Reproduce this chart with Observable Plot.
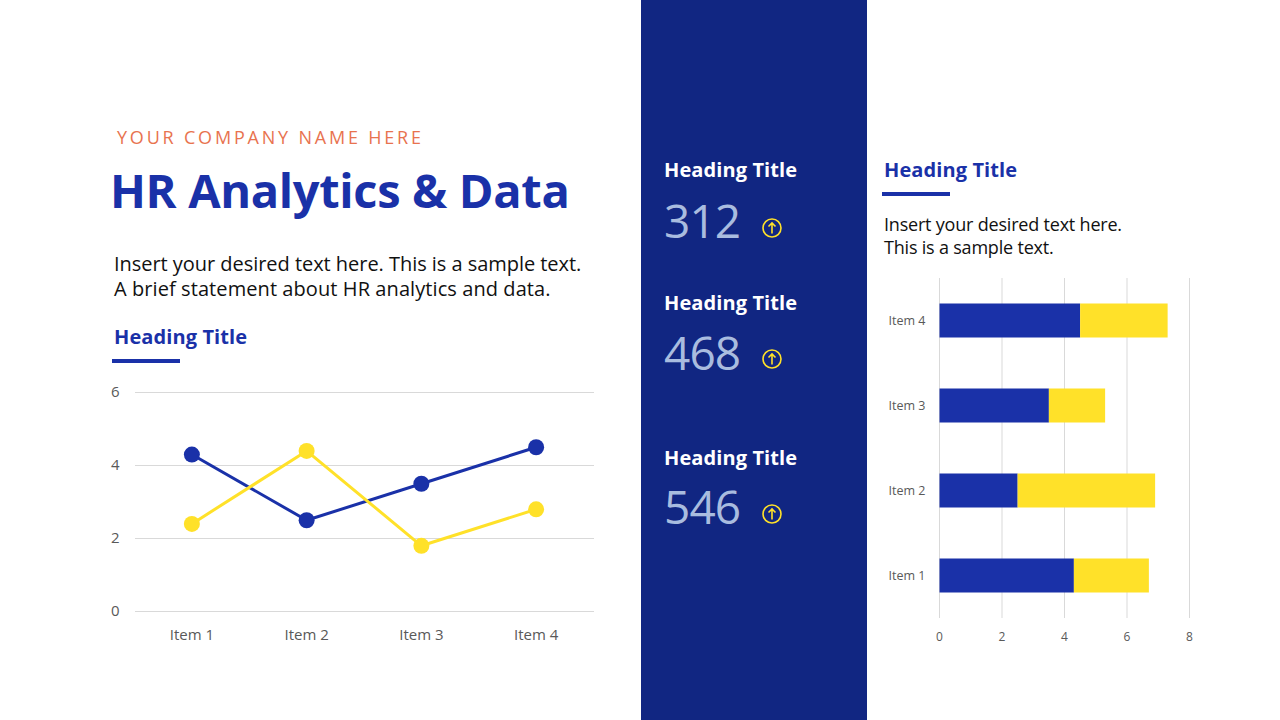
<!DOCTYPE html>
<html><head><meta charset="utf-8">
<script src="https://cdn.jsdelivr.net/npm/d3@7"></script>
<script src="https://cdn.jsdelivr.net/npm/@observablehq/plot@0.6"></script>
<style>
html,body{margin:0;padding:0;background:#fff}
#slide{position:relative;width:1280px;height:720px;overflow:hidden;font-family:"Open Sans","Noto Sans",sans-serif;background:#fff}
#slide>*{position:absolute;white-space:nowrap}
#panel{left:641px;top:0;width:226px;height:720px;background:#112682}
.h{font-weight:700;font-size:20px;line-height:26px;letter-spacing:.1px}
.blue{color:#1a31a8}.white{color:#fff}
.rule{height:4px;background:#1a31a8}
.num{font-size:46px;line-height:56px;color:#a9bcdf;font-weight:400;letter-spacing:-.9px}
.body{font-size:20px;line-height:25px;color:#111}
.arrow{width:22px;height:22px}
svg.plot{position:absolute;overflow:visible}
</style></head><body>
<div id="slide">
<div id="panel"></div>
<div style="left:117px;top:125px;font-size:18px;line-height:24px;letter-spacing:2.8px;color:#e8734f">YOUR COMPANY NAME HERE</div>
<div class="blue" style="left:110px;top:157px;font-size:47px;line-height:66px;font-weight:700;letter-spacing:-.34px">HR Analytics &amp; Data</div>
<div class="body" style="left:114px;top:251px"><span style="letter-spacing:-.04px">Insert your desired text here. This is a sample text.</span><br><span style="letter-spacing:.08px">A brief statement about HR analytics and data.</span></div>
<div class="h blue" style="left:114px;top:324px">Heading Title</div>
<div class="rule" style="left:112px;top:359px;width:68px"></div>
<div class="h white" style="left:664px;top:157px">Heading Title</div>
<div class="num" style="left:664px;top:192px">312</div>
<svg class="arrow" style="left:761px;top:217px" viewBox="0 0 22 22"><circle cx="11" cy="11" r="9" fill="none" stroke="#ffe129" stroke-width="1.6"/><path d="M11 16.500V6M7.500 9.500L11 6l3.500 3.500" fill="none" stroke="#ffe129" stroke-width="1.6"/></svg>
<div class="h white" style="left:664px;top:290px">Heading Title</div>
<div class="num" style="left:664px;top:324px">468</div>
<svg class="arrow" style="left:761px;top:348px" viewBox="0 0 22 22"><circle cx="11" cy="11" r="9" fill="none" stroke="#ffe129" stroke-width="1.6"/><path d="M11 16.500V6M7.500 9.500L11 6l3.500 3.500" fill="none" stroke="#ffe129" stroke-width="1.6"/></svg>
<div class="h white" style="left:664px;top:445px">Heading Title</div>
<div class="num" style="left:664px;top:478px">546</div>
<svg class="arrow" style="left:761px;top:503px" viewBox="0 0 22 22"><circle cx="11" cy="11" r="9" fill="none" stroke="#ffe129" stroke-width="1.6"/><path d="M11 16.500V6M7.500 9.500L11 6l3.500 3.500" fill="none" stroke="#ffe129" stroke-width="1.6"/></svg>
<div class="h blue" style="left:884px;top:157px">Heading Title</div>
<div class="rule" style="left:882px;top:192px;width:68px"></div>
<div class="body" style="left:884px;top:213px;font-size:18px;line-height:23px;letter-spacing:-.2px">Insert your desired text here.<br>This is a sample text.</div>
<div id="lineChart" style="left:100px;top:380px"></div>
<div id="barChart" style="left:870px;top:270px"></div>
</div>
<script>
const items = ["Item 1", "Item 2", "Item 3", "Item 4"];
const seriesA = [4.3, 2.5, 3.5, 4.5];
const seriesB = [2.4, 4.4, 1.8, 2.8];
const BLUE = "#1a31a8", YELLOW = "#ffe129";
const rows = s => items.map((item, i) => ({item, value: s[i]}));
const a = rows(seriesA), b = rows(seriesB);
const font = '"Open Sans","Noto Sans",sans-serif';

const line = Plot.plot({
  width: 510, height: 270,
  marginLeft: 35, marginRight: 16, marginTop: 12, marginBottom: 39,
  style: {fontFamily: font, background: "transparent", overflow: "visible"},
  x: {type: "point", domain: items, padding: 0.5, round: false, range: [34, 493], label: null},
  y: {domain: [0, 6], label: null},
  marks: [
    Plot.gridY([0, 2, 4, 6], {stroke: "#d9d9d9", strokeOpacity: 1, strokeWidth: 1}),
    Plot.axisX({fontSize: 15, color: "#595959", tickSize: 0, tickPadding: 18, label: null}),
    Plot.axisY({ticks: [0, 2, 4, 6], tickFormat: "d", fontSize: 15, color: "#595959", tickSize: 0, tickPadding: 16, label: null}),
    Plot.line(a, {x: "item", y: "value", stroke: BLUE, strokeWidth: 3}),
    Plot.line(b, {x: "item", y: "value", stroke: YELLOW, strokeWidth: 3}),
    Plot.dot(a, {x: "item", y: "value", r: 8, fill: BLUE}),
    Plot.dot(b, {x: "item", y: "value", r: 8, fill: YELLOW})
  ]
});
document.getElementById("lineChart").append(line);

const stacked = [...a.map(d => ({...d, s: "A"})), ...b.map(d => ({...d, s: "B"}))];
const bar = Plot.plot({
  width: 330, height: 380,
  marginLeft: 69, marginRight: 11, marginTop: 8, marginBottom: 32,
  style: {fontFamily: font, background: "transparent", overflow: "visible"},
  x: {domain: [0, 8], label: null},
  y: {domain: [...items].reverse(), paddingInner: 0.6, paddingOuter: 0.3, round: false, label: null},
  color: {domain: ["A", "B"], range: [BLUE, YELLOW]},
  marks: [
    Plot.gridX([0, 2, 4, 6, 8], {stroke: "#d9d9d9", strokeOpacity: 1, strokeWidth: 1}),
    Plot.axisX({ticks: [0, 2, 4, 6, 8], fontSize: 12, color: "#595959", tickSize: 0, tickPadding: 14, label: null}),
    Plot.axisY({fontSize: 12.5, color: "#595959", tickSize: 0, tickPadding: 14, label: null}),
    Plot.barX(stacked, Plot.stackX({x: "value", y: "item", fill: "s", order: ["A", "B"], dx: 0.5}))
  ]
});
document.getElementById("barChart").append(bar);
</script>
</body></html>
